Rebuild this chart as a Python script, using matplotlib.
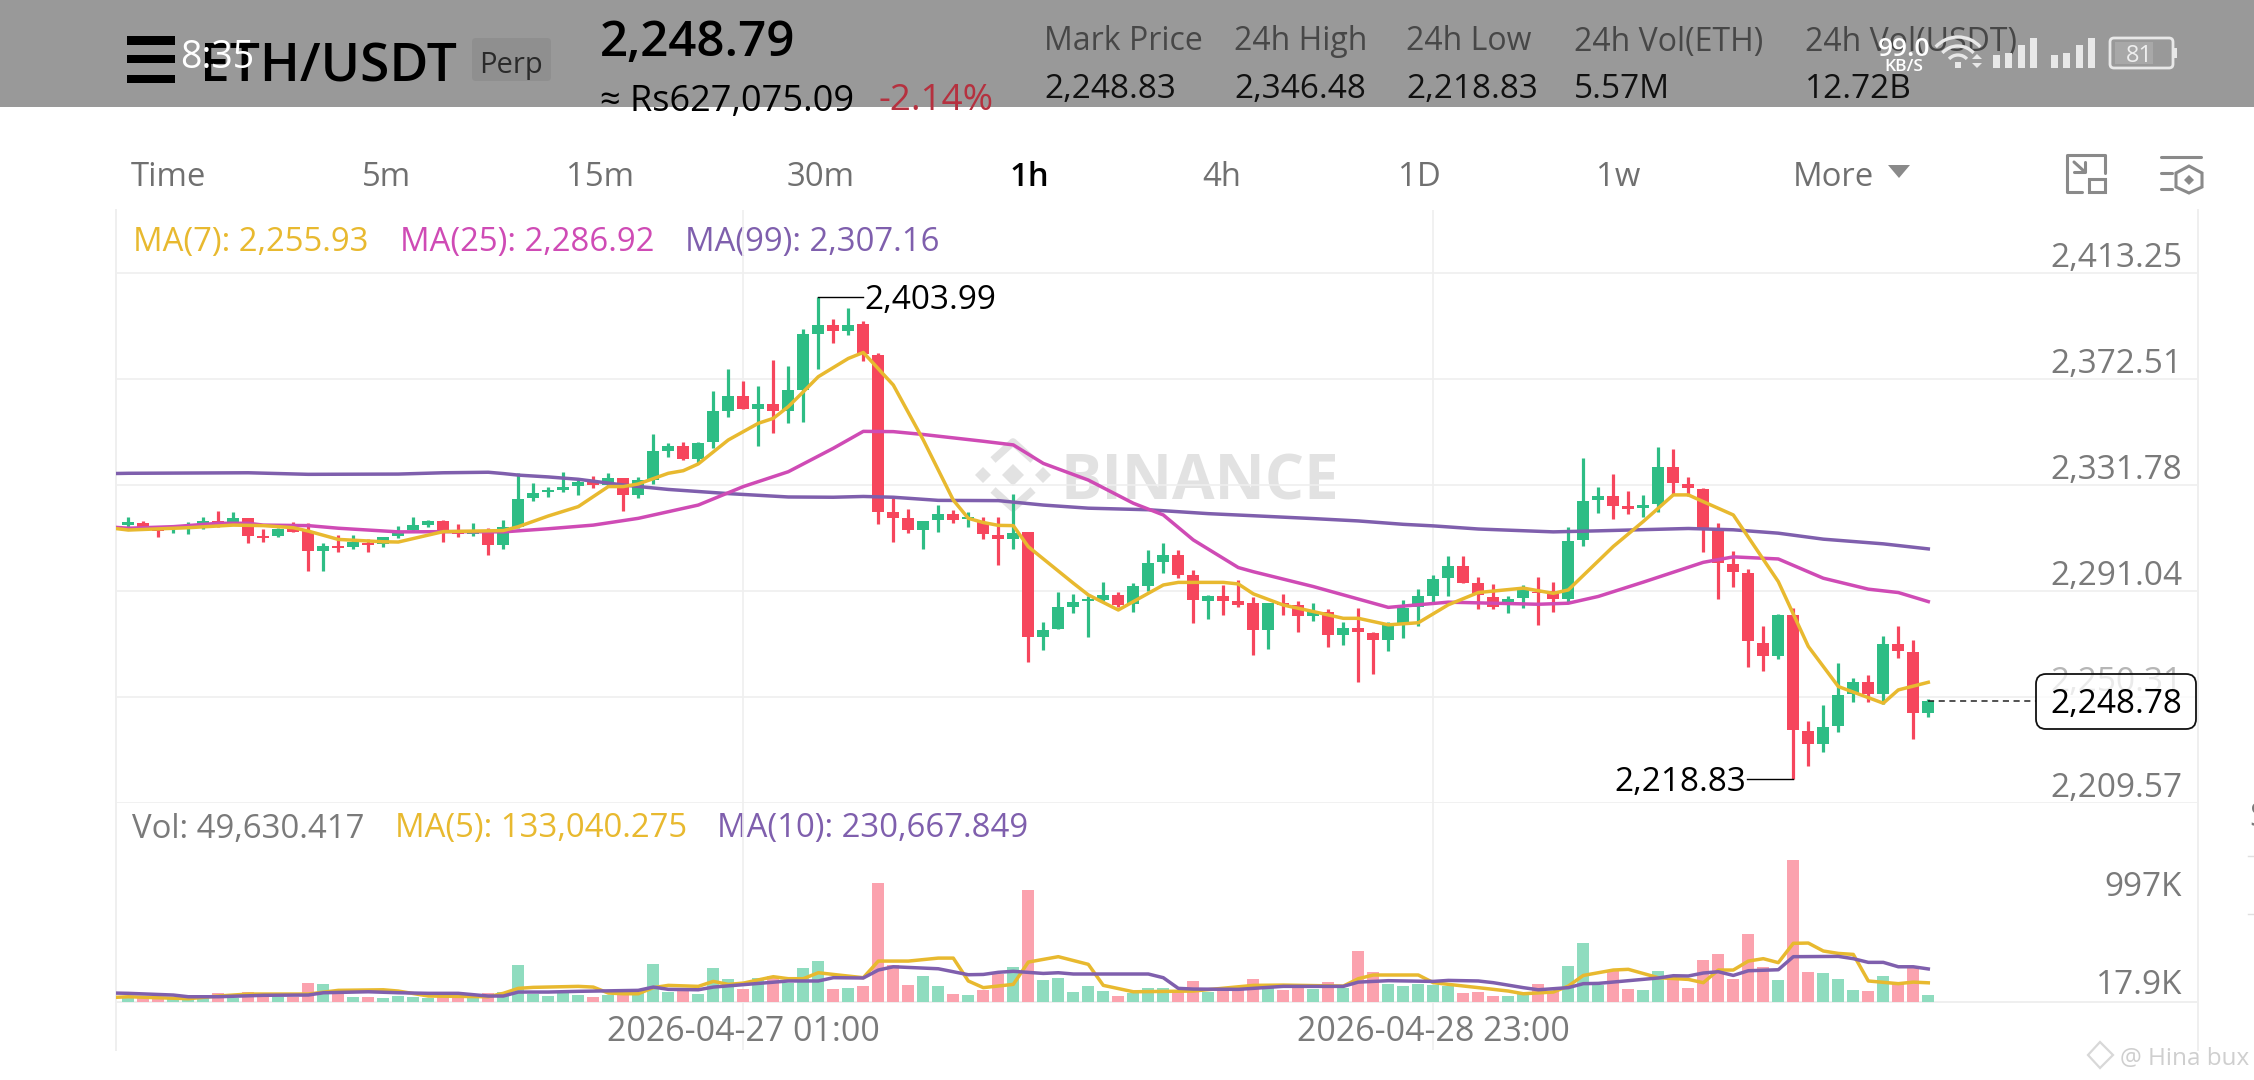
import matplotlib
matplotlib.use('Agg')
import matplotlib.pyplot as plt
from matplotlib.patches import Rectangle, Polygon, FancyBboxPatch, Arc
import numpy as np

plt.rcParams['font.family'] = ['Open Sans', 'DejaVu Sans']

# hourly candles
opens = [2316.3,2317.1,2314.9,2314.9,2315.1,2315.1,2317.7,2317.2,2318.9,2312.1,
         2312.1,2314.7,2314.2,2306.5,2308.3,2307.8,2309.3,2308.9,2312.1,2314.4,
         2316.3,2317.9,2313.8,2312.9,2313.8,2308.5,2315.7,2326.6,2328.9,2329.8,
         2331.3,2332.9,2331.7,2334.5,2327.7,2333.6,2344.9,2346.7,2341.6,2348.1,
         2360.2,2365.9,2360.9,2362.8,2360.2,2368.2,2389.8,2393.3,2391.0,2393.5,
         2381.6,2321.2,2319.2,2314.4,2318.3,2320.4,2318.8,2317.6,2312.5,2310.9,
         2313.5,2273.5,2276.4,2285.0,2287.0,2287.6,2289.6,2286.0,2292.9,2302.2,
         2304.7,2297.0,2287.3,2289.1,2287.0,2286.3,2276.0,2286.3,2285.5,2281.4,
         2283.0,2274.2,2276.8,2275.0,2272.2,2278.3,2284.7,2289.2,2295.9,2300.5,
         2294.0,2288.6,2285.5,2288.2,2290.5,2291.0,2287.8,2310.6,2325.9,2327.4,
         2323.5,2322.8,2324.3,2338.5,2332.1,2330.3,2314.7,2301.5,2297.9,2271.2,
         2266.1,2281.7,2237.4,2232.2,2239.3,2251.5,2256.0,2251.5,2270.6,2267.6,
         2244.1]
highs = [2319.3,2317.9,2315.7,2315.7,2317.6,2319.5,2321.8,2321.2,2318.9,2314.7,
         2315.1,2317.6,2317.0,2309.6,2312.4,2312.5,2310.8,2311.6,2316.1,2319.3,
         2318.3,2318.3,2316.6,2317.2,2315.1,2318.3,2336.2,2332.6,2331.1,2336.7,
         2333.6,2335.2,2336.2,2334.5,2334.6,2351.3,2347.7,2348.2,2348.3,2367.7,
         2376.2,2371.6,2369.7,2379.7,2377.4,2391.7,2403.99,2395.6,2399.5,2394.5,
         2382.5,2326.6,2322.4,2318.0,2323.9,2322.1,2321.2,2319.3,2319.3,2328.3,
         2313.8,2279.1,2290.5,2289.9,2289.1,2294.6,2290.6,2294.0,2306.8,2309.3,
         2306.8,2299.1,2289.4,2293.3,2295.2,2288.8,2286.3,2289.9,2287.0,2286.3,
         2284.0,2279.2,2284.6,2275.1,2279.2,2287.6,2291.9,2297.1,2304.5,2304.5,
         2296.2,2293.5,2288.9,2293.2,2296.5,2294.4,2315.4,2341.9,2331.1,2335.8,
         2329.4,2327.8,2346.2,2345.7,2334.7,2330.5,2317.0,2306.5,2299.6,2277.7,
         2282.3,2284.4,2241.0,2247.3,2263.3,2257.5,2258.9,2273.8,2277.6,2272.0,
         2249.4]
lows = [2315.1,2314.7,2311.9,2313.4,2312.9,2314.7,2315.4,2316.3,2309.3,2309.9,
        2311.9,2313.5,2298.8,2298.8,2305.8,2307.3,2305.8,2307.8,2311.2,2313.8,
        2315.4,2309.8,2311.9,2312.1,2304.8,2307.3,2315.1,2325.7,2327.0,2329.1,
        2328.0,2330.4,2331.1,2321.8,2326.6,2332.1,2342.6,2341.3,2340.0,2346.0,
        2357.7,2360.8,2346.8,2351.5,2355.4,2356.0,2376.1,2386.1,2389.4,2379.4,
        2316.7,2309.9,2313.4,2307.3,2313.8,2317.0,2315.4,2311.1,2301.0,2307.3,
        2263.8,2268.4,2276.4,2282.7,2273.2,2287.3,2285.0,2283.0,2290.8,2297.8,
        2295.9,2278.6,2280.1,2281.7,2285.0,2266.4,2268.7,2281.9,2275.4,2279.5,
        2269.4,2270.4,2255.9,2259.0,2267.8,2272.8,2277.6,2286.9,2289.1,2294.0,
        2284.1,2284.1,2282.7,2284.3,2278.0,2283.1,2286.9,2308.1,2321.1,2318.6,
        2320.5,2319.6,2321.5,2328.3,2327.5,2305.9,2288.0,2292.7,2261.7,2260.4,
        2264.8,2218.83,2223.6,2229.0,2237.0,2248.2,2248.5,2247.6,2265.2,2234.1,
        2242.5]
closes = [2317.4,2315.1,2314.2,2315.3,2315.7,2317.7,2316.1,2318.9,2312.2,2311.3,
          2314.7,2313.8,2306.5,2308.3,2307.5,2309.8,2308.7,2311.6,2313.8,2316.3,
          2317.9,2313.8,2312.8,2314.2,2308.5,2315.7,2326.5,2328.5,2329.8,2331.1,
          2332.9,2331.6,2334.5,2327.7,2333.6,2344.8,2346.8,2341.6,2347.8,2360.1,
          2365.9,2360.9,2362.8,2360.2,2368.1,2389.7,2393.3,2391.0,2393.3,2382.0,
          2321.5,2319.2,2314.4,2318.0,2320.4,2318.4,2319.5,2312.9,2310.9,2313.4,
          2273.5,2276.0,2284.7,2286.8,2288.1,2289.6,2285.5,2292.9,2301.9,2304.8,
          2297.2,2287.6,2289.1,2287.0,2285.8,2276.0,2286.3,2285.6,2281.4,2283.2,
          2274.2,2276.7,2275.1,2272.2,2277.8,2284.5,2289.0,2295.5,2300.5,2294.1,
          2289.5,2285.0,2287.8,2291.8,2290.1,2288.0,2310.2,2325.5,2327.4,2323.8,
          2322.4,2324.1,2338.5,2332.4,2330.5,2315.1,2301.9,2298.2,2271.6,2266.1,
          2281.8,2237.7,2232.2,2238.9,2251.1,2256.0,2251.5,2270.7,2268.0,2244.1,
          2248.78]
# volume in thousands
volumes = [40,28,16,16,21,26,59,28,70,40,33,35,129,122,59,35,31,28,40,35,
           28,35,33,23,59,68,261,56,38,63,47,35,45,63,63,263,68,75,52,239,
           162,87,169,181,134,237,286,89,94,110,836,261,115,181,108,52,45,80,192,246,
           786,150,164,70,113,77,40,61,99,99,80,143,68,99,99,162,99,84,94,87,
           138,99,357,207,124,108,127,115,110,61,70,40,40,52,122,75,249,413,120,216,
           87,84,218,157,99,296,338,162,476,242,150,997,207,199,162,80,75,181,122,239,
           49.63]

ma7_x = [-1,0,4,7,9,11,12,14,17,18,21,25,26,28,30,32,33,34,36,37,38,40,42,43,44,45,46,48,49,51,53,55,56,57,58,59,60,63,64,66,67,69,70,73,74,75,77,79,81,82,84,86,88,90,93,95,96,99,101,103,104,105,107,110,112,114,117,118,120]
ma7_y = [2315.1,2314.4,2315.3,2316.3,2316.1,2315.3,2314.0,2310.8,2309.9,2309.8,2313.8,2314.2,2315.7,2319.8,2323.4,2331.1,2331.1,2332.1,2336.2,2337.2,2339.8,2349.0,2355.4,2357.3,2361.8,2367.5,2373.3,2380.3,2382.6,2370.1,2349.0,2325.9,2318.9,2317.3,2316.2,2316.1,2308.0,2294.0,2289.5,2283.7,2286.9,2293.3,2294.3,2294.3,2293.7,2289.9,2285.6,2283.1,2280.5,2280.5,2278.0,2278.8,2285.7,2290.4,2292.1,2290.1,2291.4,2308.1,2317.7,2327.9,2327.9,2325.3,2320.2,2294.6,2269.7,2254.3,2247.9,2253.0,2255.93]
ma25_x = [-1,0,3,6,8,9,12,14,18,22,25,28,31,34,38,41,44,47,49,51,53,57,59,61,64,67,69,71,74,75,79,84,88,94,96,98,101,105,107,110,113,116,118,120]
ma25_y = [2315.5,2315.1,2315.7,2317.0,2317.0,2316.3,2316.1,2315.1,2313.7,2313.8,2313.7,2314.9,2316.3,2318.9,2324.0,2331.1,2336.8,2345.8,2352.3,2352.2,2351.1,2348.5,2347.1,2340.0,2333.6,2324.7,2320.2,2310.6,2300.0,2298.4,2292.7,2284.7,2286.7,2285.9,2286.3,2288.9,2294.4,2302.0,2304.1,2303.3,2295.9,2291.7,2290.4,2286.92]
ma99_x = [-1,0,8,12,18,21,24,25,26,28,30,33,36,40,44,47,49,51,54,58,61,64,68,72,75,79,82,85,87,90,95,98,104,107,110,113,117,120]
ma99_y = [2336.1,2336.2,2336.4,2335.8,2335.9,2336.4,2336.6,2336.1,2335.5,2334.8,2333.9,2331.7,2330.0,2328.4,2327.1,2327.0,2327.3,2327.0,2325.8,2325.7,2324.0,2322.8,2322.2,2320.7,2319.9,2318.8,2317.9,2316.6,2316.0,2314.8,2313.7,2314.1,2315.0,2314.5,2313.2,2310.9,2309.1,2307.16]

vol_ma5_x = [-1,0,4,6,8,12,14,17,18,20,24,25,26,27,30,31,32,33,34,35,36,38,39,40,41,43,44,45,46,47,49,50,52,54,55,56,57,59,60,62,64,65,67,71,75,77,81,82,83,86,87,90,92,93,95,96,97,99,100,102,104,105,106,107,108,109,110,111,112,113,114,115,116,118,119,120]
vol_ma5_y = [30,35,21,40,54,54,80,84,75,40,35,59,94,101,108,103,61,56,56,99,115,108,143,122,131,176,162,162,204,192,169,286,286,307,307,146,99,122,279,317,263,115,70,75,115,117,110,162,188,188,134,99,75,56,68,110,185,223,228,169,157,134,223,223,286,303,275,411,413,357,340,333,146,127,138,133.04]
vol_ma10_x = [-1,0,3,4,6,9,12,13,16,18,20,22,24,25,26,28,30,34,35,36,38,39,41,44,46,47,49,50,51,54,56,57,58,59,61,62,63,68,69,70,71,74,77,81,82,84,87,88,90,91,93,94,96,97,98,100,102,103,104,105,106,107,108,110,111,114,115,116,117,118,119,120]
vol_ma10_y = [61,59,47,35,35,45,47,63,70,63,59,59,40,40,68,68,73,80,103,87,84,103,120,146,146,169,167,223,246,232,190,192,207,214,199,204,195,195,169,94,89,87,108,108,138,148,143,150,146,134,99,84,99,127,129,148,167,183,181,202,211,185,218,225,317,319,303,277,277,246,246,230.67]

price_ticks = [2413.25, 2372.51, 2331.78, 2291.04, 2250.31, 2209.57]
price_labels = ['2,413.25', '2,372.51', '2,331.78', '2,291.04', '2,250.31', '2,209.57']
date_ticks = [41, 87]
date_labels = ['2026-04-27 01:00', '2026-04-28 23:00']
tabs = ['Time', '5m', '15m', '30m', '1h', '4h', '1D', '1w', 'More']
tab_x = [131, 362, 566, 787, 1010, 1202, 1398, 1596, 1793]
stat_names = ['Mark Price', '24h High', '24h Low', '24h Vol(ETH)', '24h Vol(USDT)']
stat_values = ['2,248.83', '2,346.48', '2,218.83', '5.57M', '12.72B']
stat_x = [1044, 1234, 1406, 1574, 1805]

GREEN = '#2EBD85'
RED = '#F6465D'
GOLD = '#E8B92F'
PINK = '#CF4BB5'
PURPLE = '#7F5FAD'
GREY = '#7A7A7A'
GRID = '#EFEFEF'

W, H = 2254, 1080
fig = plt.figure(figsize=(W / 100, H / 100), dpi=100, facecolor='white')

# page furniture is laid out in screen pixels
bg = fig.add_axes([0, 0, 1, 1], zorder=0)
bg.set_xlim(0, W)
bg.set_ylim(H, 0)
bg.axis('off')
fg = fig.add_axes([0, 0, 1, 1], zorder=5)
fg.set_xlim(0, W)
fg.set_ylim(H, 0)
fg.axis('off')


def label(ax, x, y, s, size=23.7, color='black', weight='normal', ha='left', zorder=3):
    ax.text(x, y, s, fontsize=size, color=color, fontweight=weight, ha=ha,
            va='center_baseline', zorder=zorder)


def pane(top, bottom):
    return fig.add_axes([116 / W, 1 - bottom / H, (2198 - 116) / W, (bottom - top) / H],
                        zorder=2, facecolor='none')


# header band
bg.add_patch(Rectangle((0, 0), W, 107, color='#999999', lw=0))
for y0, y1 in [(36, 45), (55, 63), (75, 83)]:
    fg.add_patch(Rectangle((127, y0), 48, y1 - y0, color='black', lw=0))
fg.add_patch(Polygon([[163, 55], [175, 59], [163, 63]], color='black', lw=0))
label(bg, 200, 62, 'ETH/USDT', size=38.3, weight='semibold')
bg.add_patch(FancyBboxPatch((476, 42), 71, 35, boxstyle='round,pad=4', color='#8F8F8F', lw=0))
label(bg, 511, 62, 'Perp', size=21, color='#2A2A2A', ha='center')
label(bg, 600, 37, '2,248.79', size=35.5, weight='semibold')
label(bg, 600, 97, '≈ Rs627,075.09', size=26)
label(bg, 879, 97, '-2.14%', size=26.5, color='#B5313F')
for x0, name, val in zip(stat_x, stat_names, stat_values):
    label(bg, x0, 38, name, size=23, color='#474747')
    label(bg, x0, 85, val, size=24, color='#111111', weight='medium')

# status bar on top of the header
label(fg, 180, 54, '8:35', size=27, color='white')
label(fg, 1904, 46, '99.0', size=19, color='white', weight='semibold', ha='center')
label(fg, 1904, 65, 'KB/S', size=12.5, color='white', weight='semibold', ha='center')
for r in [12, 21, 30]:
    fg.add_patch(Arc((1958, 67), 2 * r, 2 * r, theta1=222, theta2=318, color='#E8E8E8', lw=2.4))
fg.add_patch(Rectangle((1955, 62), 6, 6, color='#E8E8E8', lw=0))
fg.add_patch(Polygon([[1972, 59], [1982, 59], [1977, 54]], color='#E8E8E8', lw=0))
fg.add_patch(Polygon([[1972, 63], [1982, 63], [1977, 68]], color='#E8E8E8', lw=0))
for x0 in [1993, 2051]:
    for dx, top in zip([0, 12, 25, 37], [55, 53, 45, 38]):
        fg.add_patch(Rectangle((x0 + dx, top), 6.5, 68 - top, color='#E8E8E8', lw=0))
fg.add_patch(FancyBboxPatch((2114, 42), 55, 22, boxstyle='round,pad=4', fc='none', ec='#E8E8E8', lw=2))
fg.add_patch(Rectangle((2115, 42), 38, 22, color='#A8A8A8', lw=0))
fg.add_patch(Rectangle((2174, 48), 3, 10, color='#E8E8E8', lw=0))
label(fg, 2139, 53, '81', size=17, color='#EEEEEE', ha='center')

# interval tabs
for x0, tab in zip(tab_x, tabs):
    label(bg, x0, 174, tab, color='black' if tab == '1h' else '#707070',
          weight='semibold' if tab == '1h' else 'normal')
bg.add_patch(Polygon([[1888, 165], [1910, 165], [1899, 178]], color='#8A8A8A', lw=0))
icon = dict(color='#8A8A8A', lw=2.2, solid_capstyle='round')
bg.plot([2082, 2067, 2067, 2105, 2105], [192, 192, 155, 155, 173], **icon)
bg.add_patch(Rectangle((2089, 179), 16, 13, fc='none', ec='#8A8A8A', lw=2.2))
bg.plot([2074, 2085], [162, 172], **icon)
bg.plot([2074, 2085, 2085], [172, 172, 162], **icon)
bg.plot([2161, 2201], [157, 157], **icon)
bg.plot([2161, 2172], [173, 173], **icon)
bg.plot([2161, 2172], [189, 189], **icon)
bg.add_patch(Polygon([[2189, 166], [2202, 173], [2202, 187], [2189, 193], [2176, 187], [2176, 173]],
                     fc='none', ec='#8A8A8A', lw=2.2))
bg.add_patch(Polygon([[2189, 175], [2194, 180], [2189, 185], [2184, 180]], color='#8A8A8A', lw=0))

# BINANCE watermark under the candles
WM = '#E2E2E2'
cx, cy = 1013, 475
bg.add_patch(Polygon([[cx, cy - 11], [cx + 11, cy], [cx, cy + 11], [cx - 11, cy]], color=WM, lw=0))
for dx in [-30, 30]:
    bg.add_patch(Polygon([[cx + dx, cy - 8], [cx + dx + 8, cy], [cx + dx, cy + 8], [cx + dx - 8, cy]], color=WM, lw=0))
for s in [-1, 1]:
    bg.plot([cx - 20, cx, cx + 20], [cy + s * 15, cy + s * 33, cy + s * 15], color=WM, lw=5.5, solid_capstyle='butt')
label(bg, 1060, 475, 'BINANCE', size=44.5, color=WM, weight='bold')

# bottom right watermark and the cut-off page edge
label(bg, 2120, 1056, '@ Hina bux', size=17.5, color='#CFCFCF')
bg.add_patch(Polygon([[2100, 1042], [2113, 1055], [2100, 1068], [2088, 1055]], fc='none', ec='#D8D8D8', lw=1.6))
label(bg, 2249, 813, 'S', color=GREY)
bg.plot([2248, 2254], [856, 856], color='#E0E0E0', lw=1)
bg.plot([2248, 2254], [914, 914], color='#E0E0E0', lw=1)

x = np.arange(len(opens))
opens_a, closes_a = np.array(opens), np.array(closes)
up = closes_a >= opens_a
colors = np.where(up, GREEN, RED)
vol_colors = np.where(up, '#8FDCBF', '#FBA2AE')

# price pane
ax = pane(210, 803)
ax.vlines(x, lows, highs, colors=colors, lw=2.3, zorder=3)
ax.bar(x, np.abs(closes_a - opens_a), bottom=np.minimum(opens_a, closes_a), width=0.78,
       color=colors, zorder=3)
ax.plot(ma99_x, ma99_y, color=PURPLE, lw=2.5, zorder=4)
ax.plot(ma25_x, ma25_y, color=PINK, lw=2.5, zorder=4)
ax.plot(ma7_x, ma7_y, color=GOLD, lw=2.5, zorder=4)
ax.set_xlim(-0.82, 137.98)
ax.set_ylim(2209.57, 2437.32)
ax.set_yticks(price_ticks)
ax.set_xticks(date_ticks)
ax.set_xticklabels([])
ax.set_yticklabels([])
ax.tick_params(length=0)
ax.grid(True, color=GRID, lw=1.2, zorder=0)
ax.set_axisbelow(True)
for side in ['top', 'bottom']:
    ax.spines[side].set_visible(False)
for side in ['left', 'right']:
    ax.spines[side].set_color(GRID)
    ax.spines[side].set_linewidth(1.4)
for tick, text in zip(price_ticks, price_labels):
    ax.annotate(text, xy=(1, tick), xycoords=('axes fraction', 'data'), xytext=(-11.5, 4.1),
                textcoords='offset points', ha='right', va='baseline', fontsize=24,
                color=GREY, zorder=5, alpha=0.55 if tick == 2250.31 else 1)

# high and low markers
ihigh = int(np.argmax(highs))
ilow = int(np.argmin(lows))
ax.plot([ihigh, ihigh + 3.0], [highs[ihigh], highs[ihigh]], color='black', lw=1, zorder=5)
ax.text(ihigh + 3.05, highs[ihigh], f'{highs[ihigh]:,.2f}', fontsize=24, va='center_baseline', zorder=6)
ax.plot([ilow, ilow - 3.1], [lows[ilow], lows[ilow]], color='black', lw=1, zorder=5)
ax.text(ilow - 3.15, lows[ilow], f'{lows[ilow]:,.2f}', fontsize=24, ha='right', va='center_baseline', zorder=6)

# last price tag
ax.plot([x[-1], 127.2], [closes[-1], closes[-1]], color='#222222', lw=1.1, ls=(0, (4, 3)), zorder=5)
ax.add_patch(FancyBboxPatch((2046, 684), 140, 35, boxstyle='round,pad=10', fc=(1, 1, 1, 0.72), ec='#111111',
                            lw=1.3, transform=bg.transData, clip_on=False, zorder=6))
ax.annotate(f'{closes[-1]:,.2f}', xy=(1, closes[-1]), xycoords=('axes fraction', 'data'), xytext=(-11.5, 0),
            textcoords='offset points', ha='right', va='center_baseline', fontsize=24, zorder=7)

label(bg, 133, 238, 'MA(7): 2,255.93', color=GOLD)
label(bg, 400, 238, 'MA(25): 2,286.92', color=PINK)
label(bg, 685, 238, 'MA(99): 2,307.16', color=PURPLE)

# volume pane
vx = pane(803, 1050)
vx.bar(x, volumes, width=0.8, color=vol_colors, zorder=2)
vx.plot(vol_ma5_x, vol_ma5_y, color=GOLD, lw=2.5, zorder=3)
vx.plot(vol_ma10_x, vol_ma10_y, color=PURPLE, lw=2.5, zorder=3)
vx.axhline(0, color=GRID, lw=1.4, zorder=1)
vx.set_xlim(-0.82, 137.98)
vx.set_ylim(-340, 1399)
vx.set_yticks([])
vx.set_xticks(date_ticks)
vx.set_xticklabels(date_labels, fontsize=24.4, color=GREY)
vx.tick_params(axis='x', length=0, pad=-25)
vx.grid(True, axis='x', color=GRID, lw=1.2, zorder=0)
vx.set_axisbelow(True)
for side in ['top', 'bottom']:
    vx.spines[side].set_visible(False)
for side in ['left', 'right']:
    vx.spines[side].set_color(GRID)
    vx.spines[side].set_linewidth(1.4)

label(bg, 2182, 884, '997K', size=24, color=GREY, ha='right')
label(bg, 2182, 982, '17.9K', size=24, color=GREY, ha='right')
label(bg, 132, 825, 'Vol: 49,630.417', color=GREY)
label(bg, 395, 825, 'MA(5): 133,040.275', color=GOLD)
label(bg, 717, 825, 'MA(10): 230,667.849', color=PURPLE)

fig.savefig('out.png', dpi=100)
